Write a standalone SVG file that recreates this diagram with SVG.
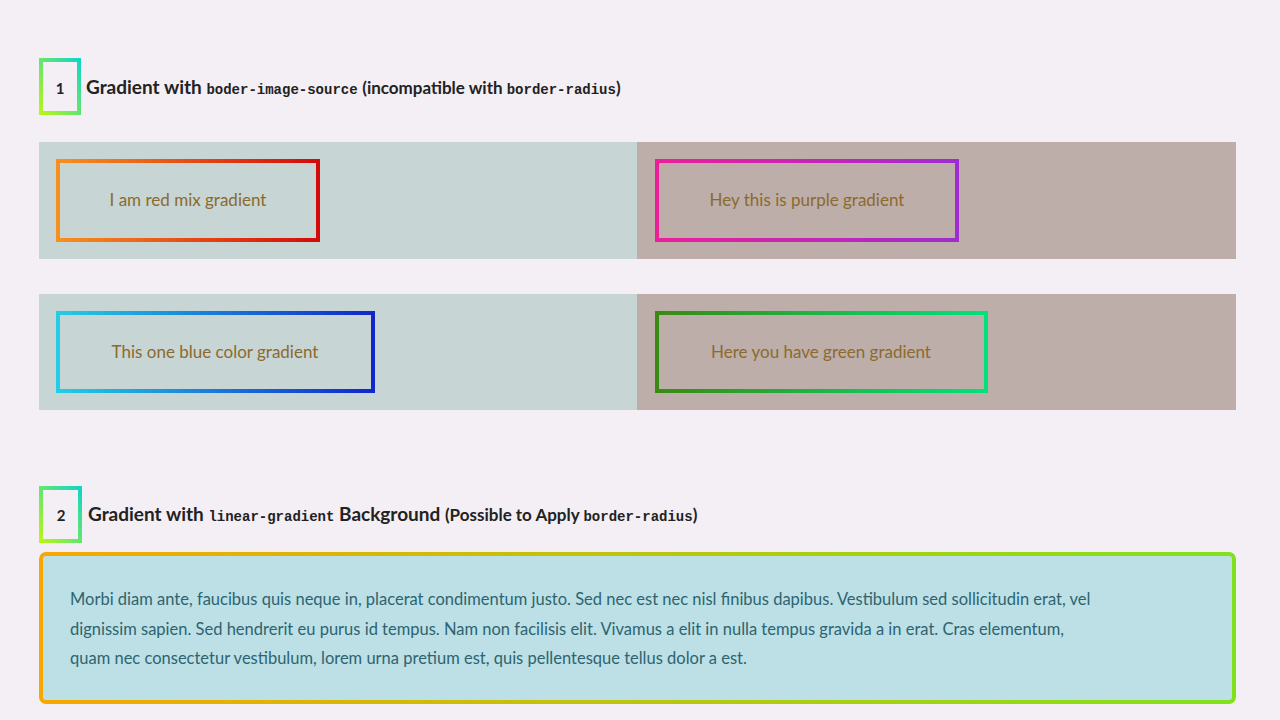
<svg xmlns="http://www.w3.org/2000/svg" width="1280" height="720" viewBox="0 0 1280 720">
<defs>
<linearGradient id="gb" x1="0" y1="1" x2="1" y2="0"><stop offset="0" stop-color="#b6f51a"/><stop offset="1" stop-color="#12d6c4"/></linearGradient>
<linearGradient id="g1" x1="0" y1="0" x2="1" y2="0"><stop offset="0" stop-color="#f7901e"/><stop offset="1" stop-color="#d40a0a"/></linearGradient>
<linearGradient id="g2" x1="0" y1="0" x2="1" y2="0"><stop offset="0" stop-color="#ec1f9a"/><stop offset="1" stop-color="#a02bd0"/></linearGradient>
<linearGradient id="g3" x1="0" y1="0" x2="1" y2="0"><stop offset="0" stop-color="#22cde6"/><stop offset="1" stop-color="#1026cc"/></linearGradient>
<linearGradient id="g4" x1="0" y1="0" x2="1" y2="0"><stop offset="0" stop-color="#3a8a12"/><stop offset="1" stop-color="#00e27a"/></linearGradient>
<linearGradient id="g5" x1="0" y1="0" x2="1" y2="0"><stop offset="0" stop-color="#f7a800"/><stop offset="1" stop-color="#80e21a"/></linearGradient>
</defs>
<style>
.h{font-family:Lato,"Open Sans",sans-serif;font-weight:bold;fill:#222}
.m{font-family:"Liberation Mono",monospace;font-weight:bold;fill:#222}
.c{font-family:Lato,"Open Sans",sans-serif;font-size:17px;fill:#8b6a2e}
.p{font-family:Lato,"Open Sans",sans-serif;font-size:16.5px;fill:#2e6470}
</style>
<rect width="1280" height="720" fill="#f4eef5"/>
<g id="heading1">
<rect x="41" y="60" width="38" height="53" fill="none" stroke="url(#gb)" stroke-width="4"/>
<text x="60" y="94" text-anchor="middle" class="h" font-size="15">1</text>
<text x="86" y="94" class="h" font-size="19">Gradient with <tspan class="m" font-size="14">boder-image-source</tspan> <tspan font-size="17">(incompatible with </tspan><tspan class="m" font-size="14">border-radius</tspan><tspan font-size="17">)</tspan></text>
</g>
<rect x="39" y="142" width="598" height="117" fill="#c7d5d4"/>
<rect x="637" y="142" width="599" height="117" fill="#bdaeaa"/>
<rect x="39" y="294" width="598" height="116" fill="#c7d5d4"/>
<rect x="637" y="294" width="599" height="116" fill="#bdaeaa"/>
<g id="card1"><rect x="58" y="161" width="260" height="79" fill="none" stroke="url(#g1)" stroke-width="4"/><text x="188" y="206" text-anchor="middle" class="c">I am red mix gradient</text></g>
<g id="card2"><rect x="657" y="161" width="300" height="79" fill="none" stroke="url(#g2)" stroke-width="4"/><text x="807" y="206" text-anchor="middle" class="c">Hey this is purple gradient</text></g>
<g id="card3"><rect x="58" y="313" width="315" height="78" fill="none" stroke="url(#g3)" stroke-width="4"/><text x="215" y="358" text-anchor="middle" class="c">This one blue color gradient</text></g>
<g id="card4"><rect x="657" y="313" width="329" height="78" fill="none" stroke="url(#g4)" stroke-width="4"/><text x="821" y="358" text-anchor="middle" class="c">Here you have green gradient</text></g>
<g id="heading2">
<rect x="41" y="488" width="39" height="53" fill="none" stroke="url(#gb)" stroke-width="4"/>
<text x="61" y="521" text-anchor="middle" class="h" font-size="15">2</text>
<text x="88" y="521" class="h" font-size="19">Gradient with <tspan class="m" font-size="14">linear-gradient</tspan> Background <tspan font-size="17">(Possible to Apply </tspan><tspan class="m" font-size="14">border-radius</tspan><tspan font-size="17">)</tspan></text>
</g>
<g id="panel">
<rect x="41" y="554" width="1193" height="148" rx="5" fill="#bce0e6" stroke="url(#g5)" stroke-width="4"/>
<text class="p"><tspan x="70" y="605">Morbi diam ante, faucibus quis neque in, placerat condimentum justo. Sed nec est nec nisl finibus dapibus. Vestibulum sed sollicitudin erat, vel</tspan><tspan x="70" y="635">dignissim sapien. Sed hendrerit eu purus id tempus. Nam non facilisis elit. Vivamus a elit in nulla tempus gravida a in erat. Cras elementum,</tspan><tspan x="70" y="664">quam nec consectetur vestibulum, lorem urna pretium est, quis pellentesque tellus dolor a est.</tspan></text>
</g>
</svg>
